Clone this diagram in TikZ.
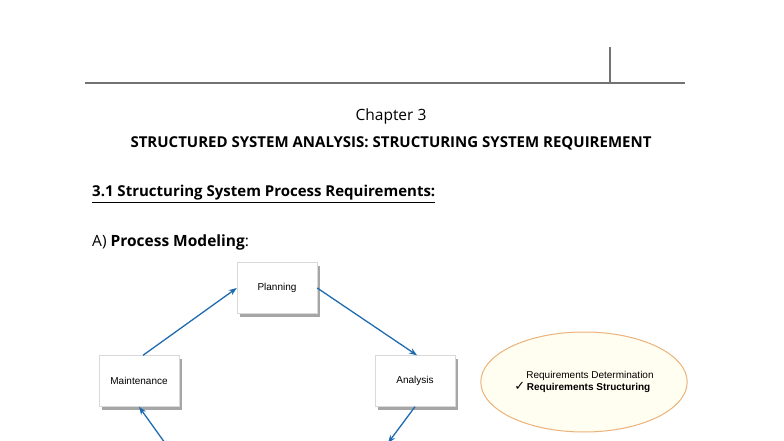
\documentclass[tikz,border=0pt]{standalone}
\usepackage{fontspec}
\setmainfont{Open Sans}
\newfontfamily\arialf{Liberation Sans}
\newfontfamily\djv{DejaVu Sans}
\usetikzlibrary{arrows.meta,shadows,shapes.geometric}
\definecolor{arrblue}{HTML}{1F6BB0}
\begin{document}
\begin{tikzpicture}[x=1pt,y=-1pt,
  box/.style={draw=black!15,fill=white,minimum width=80pt,minimum height=51pt,font=\arialf\fontsize{10}{12}\selectfont,
    drop shadow={shadow xshift=3pt,shadow yshift=-3pt,fill=black!35,opacity=1}},
  arr/.style={-{Stealth[length=8pt,width=6pt]},draw=arrblue,line width=1.3pt}]
\useasboundingbox (0,0) rectangle (784,441);
\draw[line width=2.5pt,black!55] (85,83) -- (685,83);
\draw[line width=2.5pt,black!55] (610,47) -- (610,83);
\node[font=\fontsize{15.5}{18}\selectfont] (ch) at (391,116) {Chapter 3};
\node[font=\bfseries\fontsize{15}{18}\selectfont] (sub) at (391,143) {STRUCTURED SYSTEM ANALYSIS: STRUCTURING SYSTEM REQUIREMENT};
\node[anchor=west,font=\bfseries\fontsize{15}{18}\selectfont,inner sep=0] (s31) at (92,194) {\underline{3.1 Structuring System Process Requirements:}};
\node[anchor=west,font=\fontsize{15.5}{18}\selectfont,inner sep=0] (pm) at (92,242) {A) \textbf{Process Modeling}:};
\node[box] (plan) at (277,288) {Planning};
\node[box] (main) at (139,381) {Maintenance};
\node[box] (ana) at (415,381) {Analysis};
\node[draw=brown!50!orange!60,line width=1pt,fill=yellow!6,ellipse,minimum width=204pt,minimum height=100pt,
  font=\arialf\fontsize{10}{12}\selectfont,align=left] (el) at (584,382)
  {\hspace*{12pt}Requirements Determination\\{\djv\fontsize{13}{12}\selectfont\textbf{✓}}\,\textbf{Requirements Structuring}};
\coordinate (b1) at (165,443);
\coordinate (b2) at (388,443);
\draw[arr] (main.north) ++(4,0) -- (plan.west);
\draw[arr] (plan.east) -- ([xshift=2pt]ana.north);
\draw[arr] (b1) -- (main.south);
\draw[arr] (ana.south) -- (b2);
\end{tikzpicture}
\end{document}
